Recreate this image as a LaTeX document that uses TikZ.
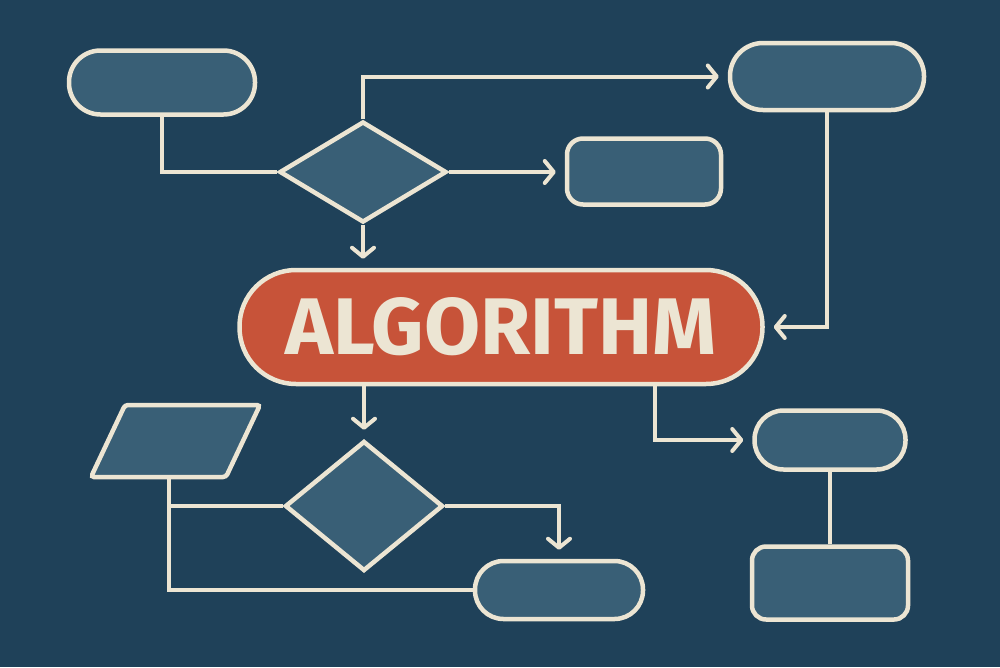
\documentclass[tikz,border=0pt]{standalone}
\usepackage{fontspec}
\usepackage{graphicx}
\usetikzlibrary{arrows.meta,shapes.geometric}
\newfontfamily\algfont{Fira Sans}
\definecolor{bgnavy}{RGB}{31,65,89}
\definecolor{boxfill}{RGB}{57,95,118}
\definecolor{cream}{RGB}{236,229,211}
\definecolor{algred}{RGB}{199,83,57}
\tikzset{
  stadium/.style={draw=cream,fill=boxfill,line width=4.5pt,inner sep=0pt,rectangle},
  decision/.style={draw=cream,fill=boxfill,line width=4.5pt,inner sep=0pt,diamond},
  conn/.style={draw=cream,line width=4pt},
  arr/.style={conn,-{Straight Barb[length=9pt,width=22pt,round]},shorten >=9pt},
}
\begin{document}
\begin{tikzpicture}[x=1pt,y=-1pt]
\useasboundingbox (0,0) rectangle (1000,667);
\fill[bgnavy] (0,0) rectangle (1000,667);
% shapes
\node[stadium,minimum width=186pt,minimum height=64pt,rounded corners=31.5pt] (A) at (162,82.5) {};
\node[decision,minimum width=167pt,minimum height=101pt] (d1) at (363,172) {};
\node[stadium,minimum width=194pt,minimum height=67pt,rounded corners=33pt] (B) at (827,76.5) {};
\node[stadium,minimum width=154pt,minimum height=66pt,rounded corners=16pt] (C) at (644,171.5) {};
\node[stadium,fill=algred,minimum width=523pt,minimum height=114pt,rounded corners=56.5pt] (alg) at (501,327)
  {\color{cream}\resizebox{431pt}{57pt}{\algfont\bfseries ALGORITHM}};
\node[decision,minimum width=158pt,minimum height=130pt] (d2) at (364,506) {};
\node[stadium,minimum width=168pt,minimum height=58pt,rounded corners=28.5pt] (D) at (559,590) {};
\node[stadium,minimum width=151pt,minimum height=59pt,rounded corners=29pt] (E) at (830,440) {};
\node[stadium,minimum width=156pt,minimum height=73pt,rounded corners=14pt] (F) at (830,583) {};
% parallelogram (input/output)
\coordinate (p1) at (91,477);
\coordinate (p2) at (226,477);
\coordinate (p3) at (260,405);
\coordinate (p4) at (125,405);
\coordinate (pb) at (169,477);
\draw[draw=cream,fill=boxfill,line width=4.5pt,rounded corners=3pt] (p1) -- (p2) -- (p3) -- (p4) -- cycle;
% connectors
\draw[conn] (A.south) |- (d1.west);
\draw[arr] (d1.north) |- (B.west);
\draw[arr] (d1.east) -- (d1.east -| C.west);
\draw[arr] (d1.south) -- (d1.south |- alg.north);
\draw[arr] (B.south) |- (alg.east);
\draw[arr] (alg.south -| d2.north) -- (d2.north);
\draw[arr] ([xshift=154pt]alg.south) |- (E.west);
\draw[conn] (E.south) -- (F.north);
\draw[conn] (pb) |- (D.west);
\draw[conn] (pb |- d2.west) -- (d2.west);
\draw[arr] (d2.east) -| (D.north);
\end{tikzpicture}
\end{document}
